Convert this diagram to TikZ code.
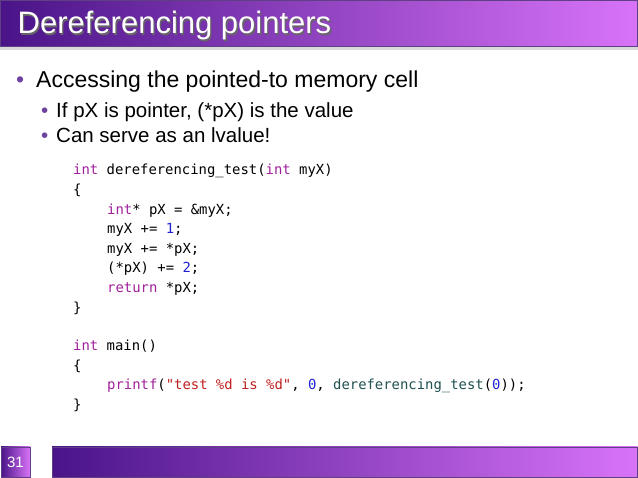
\documentclass[tikz,border=0pt]{standalone}
\usepackage{fontspec}
\setmainfont{Liberation Sans}
\setmonofont{DejaVu Sans Mono}
\usetikzlibrary{positioning}
\definecolor{barleft}{HTML}{4A1488}
\definecolor{barright}{HTML}{D873F8}
\definecolor{kw}{HTML}{A0209A}
\definecolor{num}{HTML}{2020D0}
\definecolor{str}{HTML}{C02020}
\definecolor{fcall}{HTML}{205050}
\tikzset{
  bar/.style={left color=barleft,right color=barright,draw=barleft!60!gray,line width=0.8pt},
  lvlone/.style={anchor=base west,inner sep=0pt,font=\fontsize{23}{27}\selectfont},
  lvltwo/.style={anchor=base west,inner sep=0pt,font=\fontsize{20.5}{24}\selectfont},
  codeline/.style={anchor=base west,inner sep=0pt,font=\ttfamily\fontsize{13.9}{16}\selectfont}
}
\newcommand{\kw}[1]{\textcolor{kw}{#1}}
\newcommand{\nm}[1]{\textcolor{num}{#1}}
\begin{document}
\begin{tikzpicture}[x=1pt,y=-1pt]
\useasboundingbox (0,0) rectangle (638,478);
% title bar
\fill[gray!30] (0,46) rectangle (638,50);
\shade[bar] (0.5,0.5) rectangle (637.5,46);
\node[anchor=base west,inner sep=0pt,text=black!60,font=\fontsize{31}{34}\selectfont] at (18.8,35.3) {Dereferencing pointers};
\node[anchor=base west,inner sep=0pt,text=white,font=\fontsize{31}{34}\selectfont] (title) at (17.5,34) {Dereferencing pointers};
% bullets
\node[lvlone] (b1) at (16,88) {\textcolor{barleft!80}{\textbullet}};
\node[lvlone] (t1) at (36,88) {Accessing the pointed-to memory cell};
\node[lvltwo] (b2) at (41,118) {\textcolor{barleft!80}{\textbullet}};
\node[lvltwo] (t2) at (56,118) {If pX is pointer, (*pX) is the value};
\node[lvltwo] (b3) at (41,143) {\textcolor{barleft!80}{\textbullet}};
\node[lvltwo] (t3) at (56,143) {Can serve as an lvalue!};
% code
\node[codeline] (c1) at (73,175) {\kw{int} dereferencing\_test(\kw{int} myX)};
\node[codeline] (c2) at (73,195) {\{};
\node[codeline] (c3) at (107,215) {\kw{int}* pX = \&myX;};
\node[codeline] (c4) at (107,234) {myX += \nm{1};};
\node[codeline] (c5) at (107,254) {myX += *pX;};
\node[codeline] (c6) at (107,273) {(*pX) += \nm{2};};
\node[codeline] (c7) at (107,293) {\kw{return} *pX;};
\node[codeline] (c8) at (73,313) {\}};
\node[codeline] (c9) at (73,351) {\kw{int} main()};
\node[codeline] (c10) at (73,371) {\{};
\node[codeline] (c11) at (107,390) {\kw{printf}(\textcolor{str}{"test \%d is \%d"}, \nm{0}, \textcolor{fcall}{dereferencing\_test}(\nm{0}));};
\node[codeline] (c12) at (73,410) {\}};
% footer
\shade[bar] (1,447) rectangle (30,477);
\node[text=white,font=\fontsize{15}{17}\selectfont] (pg) at (15.5,462) {31};
\shade[bar] (52,447) rectangle (637.5,477);
\end{tikzpicture}
\end{document}
